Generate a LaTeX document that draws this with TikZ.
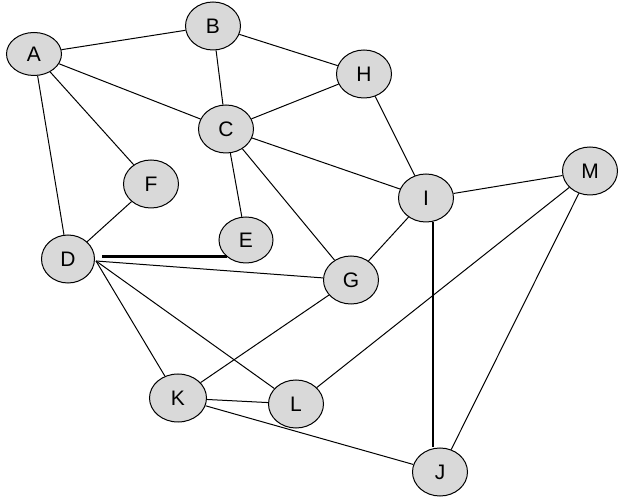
\documentclass[tikz,border=0pt]{standalone}
\usepackage{fontspec}
\setmainfont{Liberation Sans}
\usetikzlibrary{shapes.geometric}
\definecolor{nodegray}{RGB}{217,217,217}
\begin{document}
\begin{tikzpicture}[x=1pt,y=-1pt,
  vert/.style={ellipse,draw=black,line width=1pt,fill=nodegray,inner sep=0pt,
    minimum width=55pt,minimum height=48pt,font=\fontsize{21}{24}\selectfont},
  edge/.style={line width=1pt,black},
  heavy/.style={line width=2.8pt,black}]
\useasboundingbox (0,0) rectangle (624,502);
\node[vert,minimum height=43pt] (A) at (34,54) {A};
\node[vert] (B) at (213,26) {B};
\node[vert] (H) at (364,74) {H};
\node[vert] (C) at (226,129) {C};
\node[vert] (F) at (151,184) {F};
\node[vert,minimum width=54pt,minimum height=46pt] (E) at (246,240) {E};
\node[vert,minimum width=53pt] (D) at (68,259) {D};
\node[vert] (G) at (351,280) {G};
\node[vert] (I) at (426,198) {I};
\node[vert] (M) at (590,171) {M};
\node[vert,minimum width=57pt] (K) at (178,398) {K};
\node[vert] (L) at (296,404) {L};
\node[vert] (J) at (440,472) {J};
\coordinate (Dport) at ([xshift=1pt,yshift=-2pt]D.east);
\draw[edge] (A) -- (B);
\draw[edge] (A) -- (C);
\draw[edge] (A) -- (F);
\draw[edge] (A) -- (D);
\draw[edge] (B) -- (C);
\draw[edge] (B) -- (H);
\draw[edge] (H) -- (C);
\draw[edge] (H) -- (I);
\draw[edge] (C) -- (I);
\draw[edge] (C) -- (E);
\draw[edge] (C) -- (G);
\draw[edge] (F) -- (D);
\draw[edge] (Dport) -- (G);
\draw[edge] (Dport) -- (K);
\draw[edge] (Dport) -- (L);
\draw[edge] (I) -- (G);
\draw[edge] (I) -- (M);
\draw[edge] (M) -- (L);
\draw[edge] (M) -- (J);
\draw[edge] (G) -- (K);
\draw[edge] (K) -- (L);
\draw[edge] (K) -- (J);
\draw[heavy] (E.south west) -- ([xshift=7pt]E.south west -| D.east);
\draw[heavy] ([xshift=7pt]I.south) -- ([xshift=7pt]I.south |- J.north);
\end{tikzpicture}
\end{document}
